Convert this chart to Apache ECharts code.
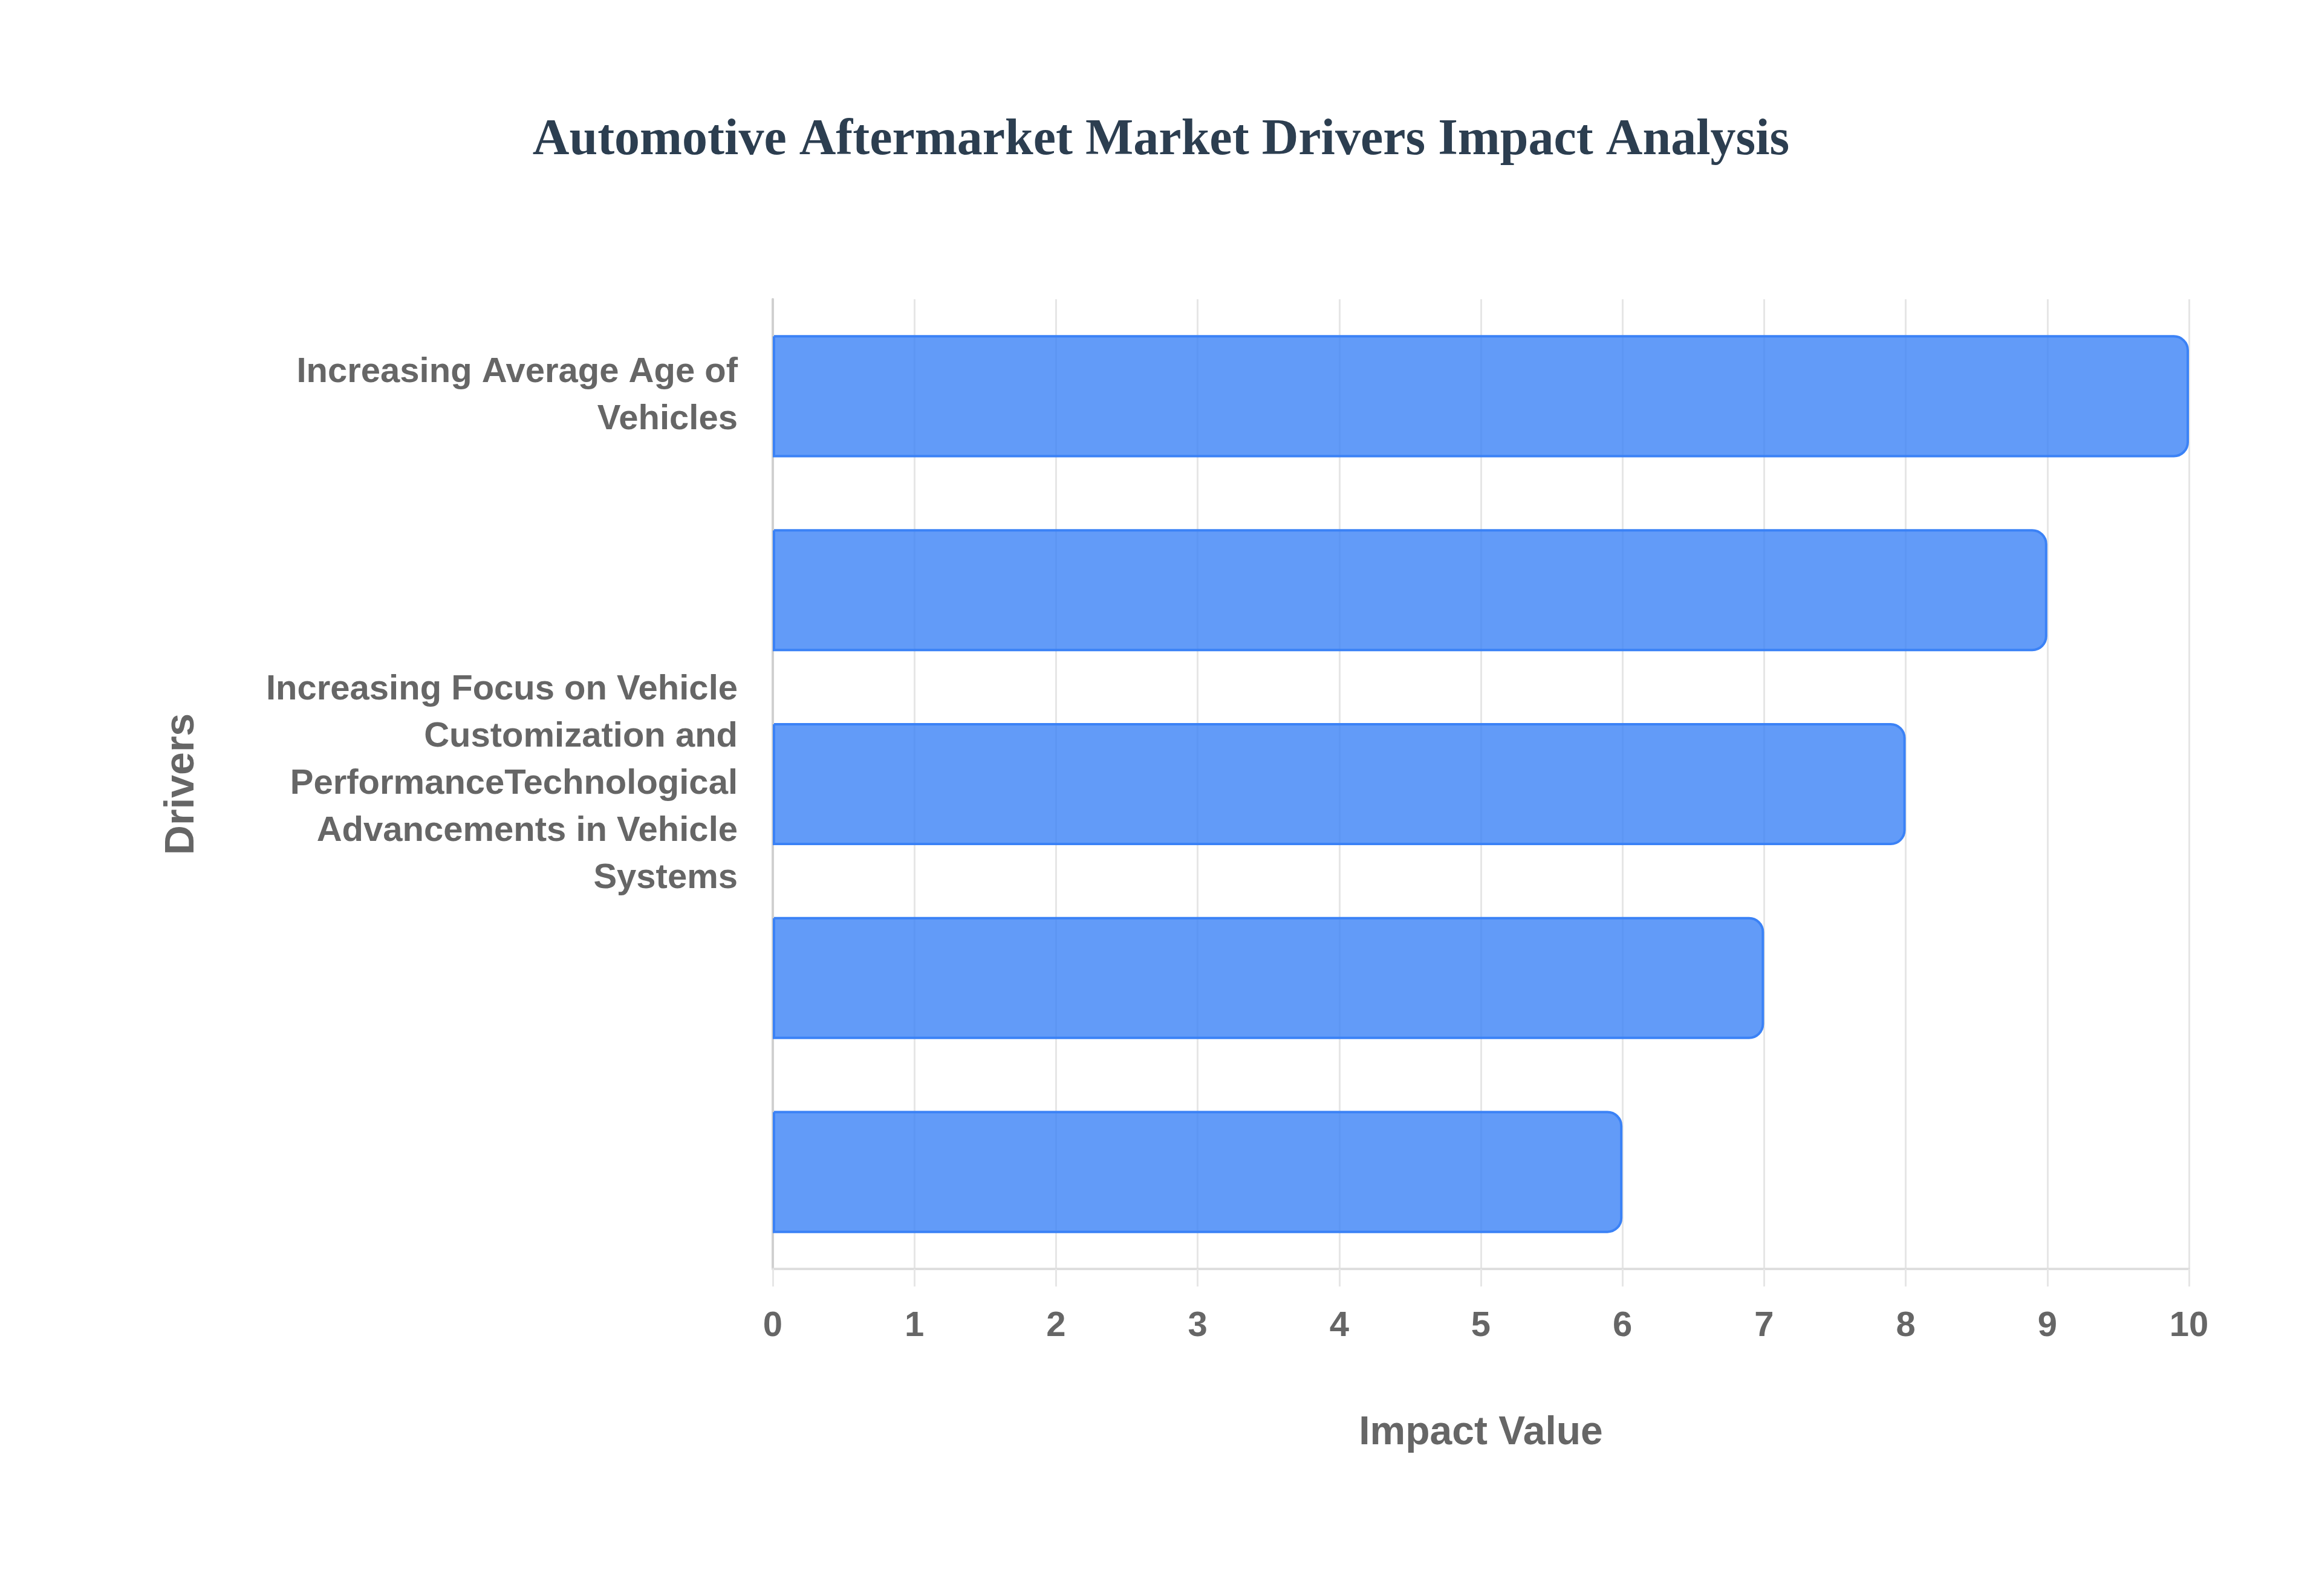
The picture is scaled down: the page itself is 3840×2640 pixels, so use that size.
<!DOCTYPE html>
<html>
<head>
<meta charset="utf-8">
<script src="https://cdn.jsdelivr.net/npm/echarts@6/dist/echarts.min.js"></script>
<style>
html,body{margin:0;padding:0;background:#fff;}
#chart{width:3840px;height:2640px;}
</style>
</head>
<body>
<div id="chart"></div>
<script>
const titleText = 'Automotive Aftermarket Market Drivers Impact Analysis';
const drivers = [
  'Increasing Average Age of Vehicles',
  'Growth of E-commerce Parts Sales',
  'Increasing Focus on Vehicle Customization and PerformanceTechnological Advancements in Vehicle Systems',
  'Rising Vehicle Miles Traveled',
  'Expansion of DIY Maintenance'
];
const impactValues = [10, 9, 8, 7, 6];
const shownLabelIndexes = [0, 2];
const xTicks = [0, 1, 2, 3, 4, 5, 6, 7, 8, 9, 10];
const xAxisTitle = 'Impact Value';
const yAxisTitle = 'Drivers';

const LABEL_FONT_SIZE = 58;
const LABEL_MAX_WIDTH = 820;
const measureCtx = document.createElement('canvas').getContext('2d');
measureCtx.font = 'bold ' + LABEL_FONT_SIZE + 'px "Liberation Sans"';
function wrapLabel(text) {
  const words = text.split(' ');
  const lines = [];
  let cur = '';
  words.forEach(function (w) {
    const test = cur ? cur + ' ' + w : w;
    if (cur && measureCtx.measureText(test).width > LABEL_MAX_WIDTH) {
      lines.push(cur);
      cur = w;
    } else {
      cur = test;
    }
  });
  if (cur) lines.push(cur);
  return lines.join('\n');
}

const chart = echarts.init(document.getElementById('chart'));
chart.setOption({
  backgroundColor: '#ffffff',
  animation: false,
  title: {
    text: titleText,
    left: 'center',
    top: 191,
    padding: 0,
    textStyle: {
      fontFamily: 'Liberation Serif',
      fontWeight: 'bold',
      fontSize: 84,
      color: '#2c3e50'
    }
  },
  grid: {
    left: 1278,
    right: 220,
    top: 495,
    bottom: 541,
    containLabel: false
  },
  xAxis: {
    type: 'value',
    min: xTicks[0],
    max: xTicks[xTicks.length - 1],
    interval: 1,
    name: xAxisTitle,
    nameLocation: 'middle',
    nameGap: 239,
    nameTextStyle: {
      fontFamily: 'Liberation Sans',
      fontWeight: 'bold',
      fontSize: 66,
      color: '#666666'
    },
    axisLine: { show: true, lineStyle: { color: '#dedede', width: 4 } },
    axisTick: { show: true, length: 29, lineStyle: { color: '#e6e6e6', width: 3 } },
    splitLine: { show: true, lineStyle: { color: '#e6e6e6', width: 3 } },
    axisLabel: {
      margin: 66,
      fontFamily: 'Liberation Sans',
      fontWeight: 'bold',
      fontSize: 58,
      color: '#666666'
    }
  },
  yAxis: {
    type: 'category',
    data: drivers,
    inverse: true,
    name: yAxisTitle,
    nameLocation: 'middle',
    nameGap: 943,
    nameTextStyle: {
      fontFamily: 'Liberation Sans',
      fontWeight: 'bold',
      fontSize: 68,
      color: '#666666'
    },
    axisLine: { show: true, lineStyle: { color: '#d0d0d0', width: 4 } },
    axisTick: { show: false },
    splitLine: { show: false },
    axisLabel: {
      margin: 58,
      interval: function (index) { return shownLabelIndexes.indexOf(index) !== -1; },
      formatter: function (value) { return wrapLabel(value); },
      align: 'right',
      lineHeight: 78,
      fontFamily: 'Liberation Sans',
      fontWeight: 'bold',
      fontSize: LABEL_FONT_SIZE,
      color: '#666666'
    }
  },
  series: [{
    type: 'bar',
    data: impactValues,
    barWidth: '63%',
    itemStyle: {
      color: 'rgba(59,130,246,0.8)',
      borderColor: '#3b82f6',
      borderWidth: 4,
      borderRadius: [0, 23, 23, 0]
    }
  }]
});
</script>
</body>
</html>
